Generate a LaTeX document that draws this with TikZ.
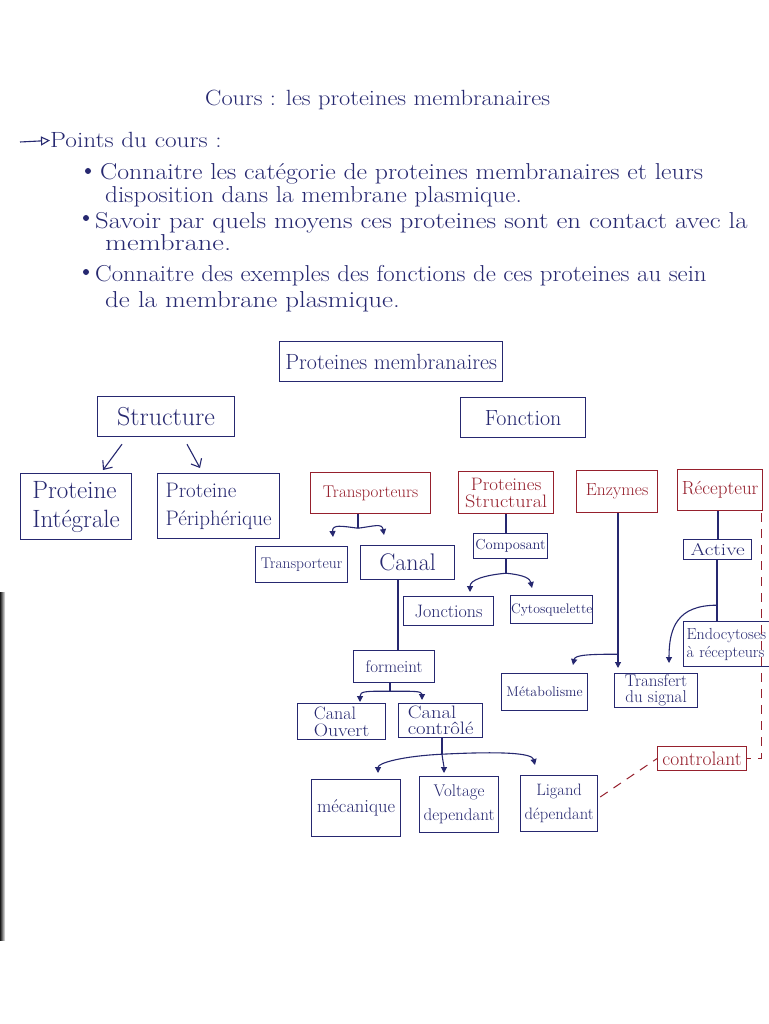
\documentclass[tikz,border=0pt]{standalone}
\usepackage{fontspec}
\usepackage{graphicx}
\usetikzlibrary{arrows.meta,calc}
\definecolor{ink}{RGB}{38,40,112}
\definecolor{redink}{RGB}{150,32,45}
\newcommand{\hsc}[2]{\scalebox{#1}[1]{#2}}
\tikzset{
  bx/.style={draw=ink, line width=1.2pt, text=ink, inner sep=0.5pt, align=center, anchor=north west},
  rbx/.style={bx, draw=redink, text=redink},
  conn/.style={draw=ink, line width=1.1pt},
  arr/.style={conn, -{Triangle[length=6pt,width=6pt]}},
  barb/.style={conn, -{Straight Barb[length=7pt,width=12pt]}},
  rdash/.style={draw=redink, line width=1pt, dash pattern=on 9pt off 7pt},
  txt/.style={text=ink, anchor=base west, inner sep=0pt, font=\fontsize{23}{26}\selectfont}
}
\begin{document}
\begin{tikzpicture}[x=1pt,y=-1pt]
\fill[white] (0,0) rectangle (768,1024);
\useasboundingbox (0,0) rectangle (768,1024);
\shade[left color=black!90, right color=black!5] (0,592) rectangle (5,940);

% header texts
\node[txt, font=\fontsize{22}{25}\selectfont] (title) at (205,106) {\hsc{1.11}{Cours : les proteines membranaires}};
\node[txt, font=\fontsize{22}{25}\selectfont] (points) at (50,148) {\hsc{1.15}{Points du cours :}};
\coordinate (pa) at (20,142);
\draw[conn, -{Triangle[open,length=9pt,width=9pt]}] (pa) -- (points.west);
\node[txt] (b1a) at (100,180) {\hsc{1.12}{Connaitre les catégorie de proteines membranaires et leurs}};
\node[txt] (b1b) at (105,203) {\hsc{1.10}{disposition dans la membrane plasmique.}};
\node[txt] (b2a) at (95,229) {\hsc{1.16}{Savoir par quels moyens ces proteines sont en contact avec la}};
\node[txt] (b2b) at (105,250) {\hsc{1.24}{membrane.}};
\node[txt] (b3a) at (95,281) {\hsc{1.08}{Connaitre des exemples des fonctions de ces proteines au sein}};
\node[txt] (b3b) at (105,307) {\hsc{1.17}{de la membrane plasmique.}};
\fill[ink] (88,171) circle (3pt);
\fill[ink] (86,218) circle (3pt);
\fill[ink] (86,272) circle (3pt);

% boxes
\node[bx, minimum width=223pt, minimum height=40pt, font=\fontsize{22}{25}\selectfont] (pm) at (279,341) {Proteines membranaires};
\node[bx, minimum width=125pt, minimum height=40pt, font=\fontsize{22}{25}\selectfont] (fonction) at (460,397) {Fonction};
\node[bx, minimum width=137pt, minimum height=40pt, font=\fontsize{26}{28}\selectfont] (structure) at (97,396) {Structure};
\node[bx, minimum width=111pt, minimum height=66pt, font=\fontsize{25}{29}\selectfont, align=left] (integrale) at (20,473) {Proteine\\Intégrale};
\node[bx, minimum width=122pt, minimum height=65pt, font=\fontsize{21}{28}\selectfont, align=left] (peripherique) at (157,473) {Proteine\\Périphérique};

\node[rbx, minimum width=120pt, minimum height=41pt, font=\fontsize{17}{19}\selectfont] (transporteurs) at (310,472) {Transporteurs};
\node[rbx, minimum width=95pt, minimum height=42pt, font=\fontsize{18}{17}\selectfont] (pstruct) at (458,471) {\hsc{1.05}{Proteines}\\\hsc{1.12}{Structural}};
\node[rbx, minimum width=81pt, minimum height=42pt, font=\fontsize{17.5}{19}\selectfont] (enzymes) at (576,470) {Enzymes};
\node[rbx, minimum width=85pt, minimum height=41pt, font=\fontsize{19}{21}\selectfont] (recepteur) at (677,469) {Récepteur};

\node[bx, minimum width=92pt, minimum height=36pt, font=\fontsize{15.5}{17}\selectfont] (transporteur) at (255,546) {Transporteur};
\node[bx, minimum width=94pt, minimum height=34pt, font=\fontsize{24}{26}\selectfont] (canal) at (360,545) {Canal};
\node[bx, minimum width=74pt, minimum height=25pt, font=\fontsize{14.5}{16}\selectfont] (composant) at (473,533) {Composant};
\node[bx, minimum width=90pt, minimum height=29pt, font=\fontsize{18}{20}\selectfont] (jonctions) at (403,596) {Jonctions};
\node[bx, minimum width=82pt, minimum height=28pt, font=\fontsize{13.8}{15}\selectfont] (cyto) at (510,595) {Cytosquelette};
\node[bx, minimum width=68pt, minimum height=20pt, font=\fontsize{17}{18}\selectfont] (active) at (683,539) {\hsc{1.25}{Active}};
\node[bx, text width=90pt, minimum height=45pt, align=left, inner sep=3pt, font=\fontsize{16}{18}\selectfont] (endo) at (683,621) {Endocytoses\\à récepteurs};
\node[bx, minimum width=86pt, minimum height=37pt, font=\fontsize{14}{16}\selectfont] (metab) at (501,673) {Métabolisme};
\node[bx, minimum width=83pt, minimum height=34pt, font=\fontsize{17}{16}\selectfont] (transfert) at (614,673) {Transfert\\du signal};
\node[bx, minimum width=81pt, minimum height=32pt, font=\fontsize{17}{19}\selectfont] (formeint) at (353,650) {formeint};
\node[bx, minimum width=88pt, minimum height=36pt, align=left, font=\fontsize{18}{17}\selectfont] (ouvert) at (297,703) {Canal\\\hsc{1.1}{Ouvert}};
\node[bx, minimum width=84pt, minimum height=34pt, align=left, font=\fontsize{18}{16}\selectfont] (controle) at (398,703) {\hsc{1.15}{Canal}\\\hsc{1.15}{contrôlé}};
\node[bx, minimum width=89pt, minimum height=57pt, font=\fontsize{18.5}{20}\selectfont] (meca) at (311,779) {mécanique};
\node[bx, minimum width=79pt, minimum height=56pt, font=\fontsize{17}{24}\selectfont] (voltage) at (419,776) {Voltage\\dependant};
\node[bx, minimum width=77pt, minimum height=56pt, font=\fontsize{16.5}{24}\selectfont] (ligand) at (520,775) {Ligand\\dépendant};
\node[rbx, minimum width=89pt, minimum height=24pt, font=\fontsize{19.5}{21}\selectfont] (controlant) at (657,746) {controlant};

% Structure arrows
\draw[barb] ($(structure.south west)+(25,7)$) -- ($(integrale.north west)+(83,-3)$);
\draw[barb] ($(structure.south west)+(90,7)$) -- ($(peripherique.north west)+(43,-5)$);

% Transporteurs branch
\coordinate (tb) at ($(transporteurs.south west)+(48,14)$);
\draw[conn] ($(transporteurs.south west)+(48,0)$) -- (tb);
\draw[arr] (tb) .. controls ($(tb)+(-16,-2)$) and ($(transporteur.north west)+(77,-22)$) .. ($(transporteur.north west)+(78,-9)$);
\draw[arr] (tb) .. controls ($(tb)+(16,-2)$) and ($(canal.north west)+(22,-22)$) .. ($(canal.north west)+(24,-10)$);

% Proteines structural -> composant
\draw[conn] ($(pstruct.south west)+(48,0)$) -- ($(composant.north west)+(33,0)$);
\coordinate (cb) at ($(composant.south west)+(33,14)$);
\draw[conn] ($(composant.south west)+(33,0)$) -- (cb);
\draw[arr] (cb) .. controls ($(cb)+(-22,2)$) and ($(jonctions.north west)+(67,-16)$) .. ($(jonctions.north west)+(67,-4)$);
\draw[arr] (cb) .. controls ($(cb)+(20,2)$) and ($(cyto.north west)+(20,-16)$) .. ($(cyto.north west)+(22,-7)$);

% Canal -> formeint
\draw[conn] ($(canal.south west)+(38,0)$) -- ($(formeint.north west)+(45,0)$);
\coordinate (fb) at ($(formeint.south west)+(37,8)$);
\draw[conn] ($(formeint.south west)+(37,0)$) -- (fb);
\draw[arr] (fb) .. controls ($(fb)+(-24,0)$) and ($(ouvert.north west)+(63,-12)$) .. ($(ouvert.north west)+(63,-1)$);
\draw[arr] (fb) .. controls ($(fb)+(24,0)$) and ($(controle.north west)+(24,-12)$) .. ($(controle.north west)+(24,-3)$);

% Canal controle -> three
\coordinate (kb) at ($(controle.south west)+(44,16)$);
\draw[conn] ($(controle.south west)+(44,0)$) -- (kb);
\draw[arr] (kb) .. controls ($(kb)+(-40,2)$) and ($(meca.north west)+(67,-16)$) .. ($(meca.north west)+(67,-6)$);
\draw[arr] (kb) .. controls ($(kb)+(1,8)$) and ($(voltage.north west)+(25,-10)$) .. ($(voltage.north west)+(25,-3)$);
\draw[arr] (kb) .. controls ($(kb)+(60,-3)$) and ($(ligand.north west)+(12,-22)$) .. ($(ligand.north west)+(15,-10)$);

% Enzymes
\draw[arr] ($(enzymes.south west)+(42,0)$) -- ($(transfert.north west)+(4,-5)$);
\coordinate (eb) at ($(enzymes.south west)+(42,141)$);
\draw[arr] (eb) .. controls ($(eb)+(-30,0)$) and ($(metab.north west)+(74,-18)$) .. ($(metab.north west)+(72,-8)$);

% Recepteur
\draw[conn] ($(recepteur.south west)+(41,0)$) -- ($(active.north west)+(35,0)$);
\draw[conn] ($(active.south west)+(34,0)$) -- ($(endo.north west)+(34,0)$);
\coordinate (rb) at ($(active.south west)+(34,45)$);
\draw[arr] (rb) .. controls ($(rb)+(-40,0)$) and ($(transfert.north west)+(55,-45)$) .. ($(transfert.north west)+(55,-10)$);

% dashed red links
\draw[rdash] ($(ligand.north east)+(2,22)$) -- (controlant.west);
\draw[rdash] ($(recepteur.south east)+(-2,2)$) |- (controlant.east);
\end{tikzpicture}
\end{document}
